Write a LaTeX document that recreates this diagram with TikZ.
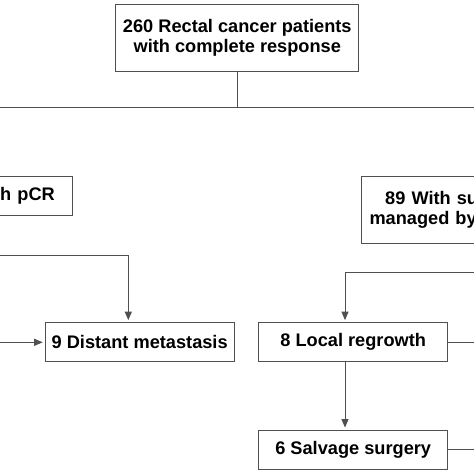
\documentclass[tikz,border=0pt]{standalone}
\usepackage{fontspec}
\setmainfont{Liberation Sans}
\usetikzlibrary{arrows.meta}
\definecolor{linegray}{RGB}{80,80,80}
\begin{document}
\begin{tikzpicture}[x=1pt,y=-1pt,
        box/.style={draw=linegray,line width=1pt,inner sep=0pt,align=center,
            font=\fontsize{18.2}{20.5}\selectfont\bfseries,
            minimum width=189pt,minimum height=39.3pt},
        link/.style={draw=linegray,line width=1pt},
        arr/.style={link,-{Triangle[length=8.5pt,width=7pt]},shorten >=2pt}]
        \useasboundingbox (0,0) rectangle (474,474);
        \clip (0,0) rectangle (474,474);
        % boxes
        \node[box,minimum width=243pt,minimum height=66.6pt] (top) at (237.3,38) {260 Rectal cancer patients\\with complete response};
        \node[box,anchor=north east,minimum width=150pt,text width=115.2pt,align=right] (pcr) at (72.7,175.7) {th pCR};
        \node[box,anchor=north west,minimum width=150pt,minimum height=67pt,text width=134pt,align=left] (ww) at (361,175.7) {\hspace*{15.7pt}89 With su\\managed by};
        \node[box] (dist) at (139.7,342.3) {9 Distant metastasis};
        \node[box] (local) at (353.2,342.3) {8 Local regrowth};
        \node[box] (salv) at (353.2,449.7) {6 Salvage surgery};
        % connectors
        \coordinate (hl) at (0,107.3);
        \coordinate (hr) at (474,107.3);
        \draw[link] (top.south) -- (top.south |- hl);
        \draw[link] (hl) -- (hr);
        \coordinate (pl) at (0,255);
        \coordinate (pk) at (128.3,255);
        \draw[arr] (pl) -- (pk) -- (pk |- dist.north);
        \draw[arr] (dist.west -| pl) -- (dist.west);
        \coordinate (rr) at (474,272.7);
        \coordinate (rk) at (345,272.7);
        \draw[arr] (rr) -- (rk) -- (rk |- local.north);
        \draw[arr] (rk |- local.south) -- (rk |- salv.north);
        \draw[link] (local.east) -- (local.east -| rr);
        \draw[link] (salv.east) -- (salv.east -| rr);
\end{tikzpicture}
\end{document}
